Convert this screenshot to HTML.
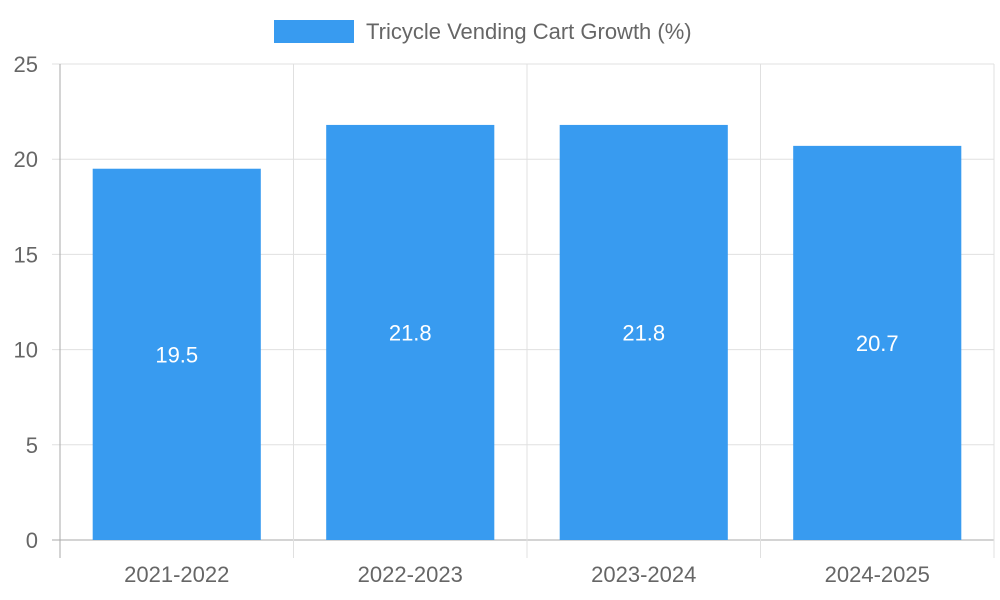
<!DOCTYPE html>
<html><head><meta charset="utf-8"><style>
html,body{margin:0;padding:0;background:#fff;}
svg{display:block;font-family:"Liberation Sans",sans-serif;}
</style></head><body>
<svg id="chart" width="1000" height="600">
<g id="grid"></g>
<g id="bars"></g>
<g id="axes"></g>
<g>
<rect x="274" y="20" width="80" height="23" fill="#389BF0"/>
<text x="366" y="39" font-size="22" fill="#666">Tricycle Vending Cart Growth (%)</text>
</g>
</svg>
<script>
const categories = ["2021-2022","2022-2023","2023-2024","2024-2025"];
const values = [19.5,21.8,21.8,20.7];
const yTicks = [0,5,10,15,20,25];
const NS="http://www.w3.org/2000/svg";
const L=60,R=994,T=64,B=540,yMax=25;
const y=v=>B-(v/yMax)*(B-T);
const cw=(R-L)/categories.length;
const xc=i=>L+cw*(i+0.5);
function mk(tag,attrs,parent,txt){const e=document.createElementNS(NS,tag);for(const k in attrs)e.setAttribute(k,attrs[k]);if(txt!==undefined)e.textContent=txt;parent.appendChild(e);return e;}
const grid=document.getElementById('grid'),bars=document.getElementById('bars'),axes=document.getElementById('axes');
yTicks.forEach(t=>{
 const ln=mk('line',{x1:L-8,x2:R,y1:y(t),y2:y(t),stroke:t===0?'#aaa':'#e0e0e0','stroke-width':1},grid);
 
 
 const lb=mk('text',{x:L-22,y:y(t)+8,'font-size':22,fill:'#666','text-anchor':'end'},axes,String(t));
 
 
});
for(let i=0;i<=categories.length;i++){
 const x=L+cw*i;
 const ln=mk('line',{x1:x,x2:x,y1:T,y2:B+18,stroke:i===0?'#aaa':'#e0e0e0','stroke-width':1},grid);
 
 
}
const bw=cw*0.72;
categories.forEach((c,i)=>{
 const r=mk('rect',{x:xc(i)-bw/2,y:y(values[i]),width:bw,height:B-y(values[i]),fill:'#389BF0'},bars);
 
 
 const v=mk('text',{x:xc(i),y:(y(values[i])+B)/2+8,'font-size':22,fill:'#fff','text-anchor':'middle'},bars,values[i].toFixed(1));
 
 
 const lb=mk('text',{x:xc(i),y:582,'font-size':22,fill:'#666','text-anchor':'middle'},axes,c);
 
 
});
</script>
</body></html>
